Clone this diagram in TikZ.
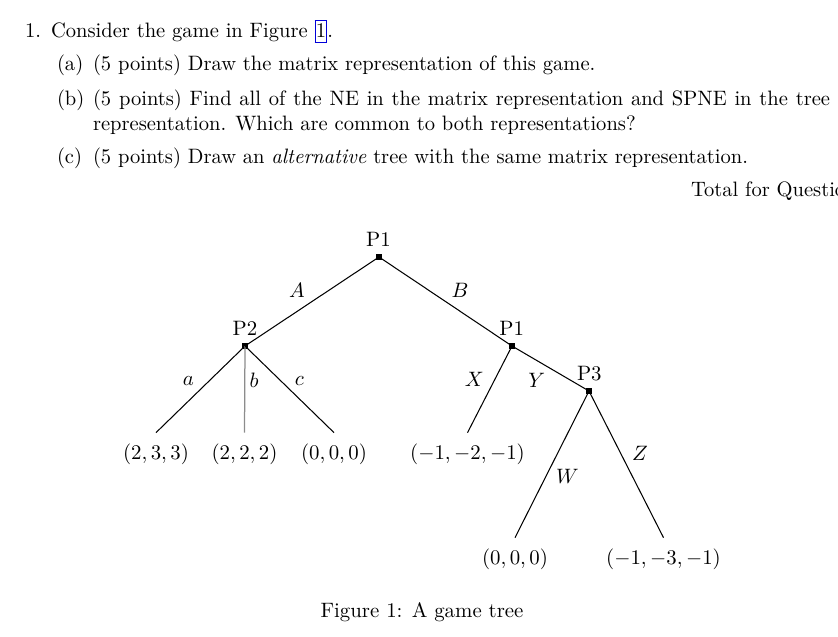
\documentclass[tikz,border=0pt]{standalone}
\usetikzlibrary{positioning}
\newcommand{\linkbox}[1]{{\color{blue!85!black}\setlength{\fboxsep}{0pt}\setlength{\fboxrule}{0.6pt}\fbox{\color{black}\vphantom{(}#1}}}
\newcommand{\hsq}[1]{\scalebox{0.986}[1]{#1}}
\begin{document}
\begin{tikzpicture}[x=0.48pt,y=-0.48pt,
  txt/.style={anchor=base west,inner sep=0pt,outer sep=0pt},
  decision/.style={rectangle,fill=black,draw=none,minimum size=2.7pt,inner sep=0pt},
  payoff/.style={inner xsep=1pt,inner ysep=5.3pt,anchor=center},
  plabel/.style={anchor=base,inner sep=0pt},
  elabel/.style={anchor=center,inner sep=0pt},
  branch/.style={draw=black,line width=0.5pt},
  graybranch/.style={draw=black!45,line width=0.6pt}]
\useasboundingbox (0,0) rectangle (838,636);
\begin{scope}
\clip (0,0) rectangle (838,636);
% header
\node[txt] (n1) at (25,37) {\hsq{1.}};
\node[txt] (h1) at (51,37) {\hsq{Consider the game in Figure \linkbox{1}.}};
\node[txt] (na) at (57,70.5) {\hsq{(a)}};
\node[txt] (ha) at (93,70.5) {\hsq{(5 points) Draw the matrix representation of this game.}};
\node[txt] (nb) at (57,105) {\hsq{(b)}};
\node[txt] (hb) at (93,105) {\hsq{\makebox[358.8pt][s]{(5 points) Find all of the NE in the matrix representation and SPNE in the tree}}};
\node[txt] (hb2) at (93,130) {\hsq{representation. Which are common to both representations?}};
\node[txt] (nc) at (57,163.5) {\hsq{(c)}};
\node[txt] (hc) at (93,163.5) {\hsq{(5 points) Draw an \emph{alternative} tree with the same matrix representation.}};
\node[txt] (tot) at (691,196) {\hsq{Total for Question}};
\end{scope}
% tree decision nodes
\node[decision] (root) at (379,257) {};
\node[decision] (p2) at (245,346) {};
\node[decision] (p1b) at (512,346) {};
\node[decision] (p3) at (589,391) {};
% player labels
\node[plabel] (lroot) at (378.5,246) {P1};
\node[plabel] (lp2) at (245,335) {P2};
\node[plabel] (lp1b) at (511.7,335) {P1};
\node[plabel] (lp3) at (589.3,380) {P3};
% payoffs
\node[payoff] (l1) at (156,454.5) {$(2,3,3)$};
\node[payoff] (l2) at (244.5,454.5) {$(2,2,2)$};
\node[payoff] (l3) at (334,454.5) {$(0,0,0)$};
\node[payoff] (l4) at (467.5,454.5) {$(-1,-2,-1)$};
\node[payoff] (l5) at (515,559.5) {$(0,0,0)$};
\node[payoff] (l6) at (663.5,559.5) {$(-1,-3,-1)$};
% branches
\draw[branch] (root.center) -- (p2.center);
\draw[branch] (root.center) -- (p1b.center);
\draw[branch] (p2.center) -- (l1.north);
\draw[graybranch] (p2.center) -- (l2.north);
\draw[branch] (p2.center) -- (l3.north);
\draw[branch] (p1b.center) -- (l4.north);
\draw[branch] (p1b.center) -- (p3.center);
\draw[branch] (p3.center) -- (l5.north);
\draw[branch] (p3.center) -- (l6.north);
% edge labels
\node[elabel] (eA) at (297,290.7) {$A$};
\node[elabel] (eB) at (460,290.7) {$B$};
\node[elabel] (ea) at (188.3,381) {$a$};
\node[elabel] (eb) at (254,380) {$b$};
\node[elabel] (ec) at (299.3,381) {$c$};
\node[elabel] (eX) at (474.3,379) {$X$};
\node[elabel] (eY) at (536.7,380.7) {$Y$};
\node[elabel] (eW) at (567.3,476) {$W$};
\node[elabel] (eZ) at (640,453.3) {$Z$};
% caption
\node[plabel] (cap) at (422,617) {Figure 1: A game tree};
\end{tikzpicture}
\end{document}
